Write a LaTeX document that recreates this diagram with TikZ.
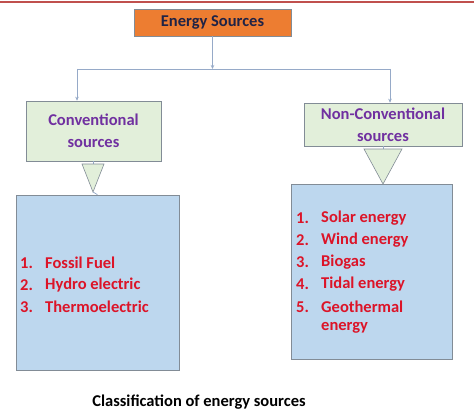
\documentclass[tikz,border=0pt]{standalone}
\usepackage{fontspec}
\setmainfont{Carlito}
\usetikzlibrary{arrows.meta}
\definecolor{orangebox}{RGB}{237,125,49}
\definecolor{greenbox}{RGB}{226,239,218}
\definecolor{bluebox}{RGB}{189,215,238}
\definecolor{edgegray}{RGB}{130,140,150}
\definecolor{linkblue}{RGB}{150,170,200}
\definecolor{titletext}{RGB}{31,35,70}
\definecolor{purpletext}{RGB}{112,48,160}
\definecolor{redtext}{RGB}{220,20,40}
\definecolor{topline}{RGB}{192,80,77}
\tikzset{
  x=1pt, y=-1pt,
  rootbox/.style={draw=edgegray, fill=orangebox, line width=0.6pt, minimum width=157pt, minimum height=27pt, inner sep=0pt, text=titletext, font=\fontsize{16.5}{18}\selectfont\bfseries},
  catbox/.style={draw=edgegray, fill=greenbox, line width=0.6pt, inner sep=0pt, text=purpletext, align=center, font=\fontsize{16.5}{22}\selectfont\bfseries},
  listbox/.style={draw=edgegray, fill=bluebox, line width=0.6pt, inner sep=0pt},
  listtext/.style={text=redtext, anchor=west, inner sep=0pt, font=\fontsize{16.5}{22}\selectfont\bfseries},
  tri/.style={draw=edgegray, fill=greenbox, line width=0.6pt},
  link/.style={draw=linkblue, line width=0.7pt},
  linkarrow/.style={link, -{Stealth[length=4pt,width=3.5pt]}},
}
\begin{document}
\begin{tikzpicture}
\useasboundingbox (0,0) rectangle (474,412);
\fill[white] (0,0) rectangle (474,412);
\draw[topline, line width=1.8pt] (0,2) -- (474,2);

\node[rootbox] (root) at (212.5,22.5) {Energy Sources};
\node[catbox, minimum width=135pt, minimum height=60pt] (conv) at (93.5,131) {Conventional\\sources};
\node[catbox, minimum width=158pt, minimum height=43pt] (nonconv) at (383,124.5) {Non-Conventional\\sources};

\node[listbox, minimum width=163pt, minimum height=175pt] (leftlist) at (97.5,282.5) {};
\node[listbox, minimum width=161pt, minimum height=175pt] (rightlist) at (371.5,271.5) {};

% connectors
\coordinate (junc) at (root.south |- 0,69);
\coordinate (jl) at (77,69);
\coordinate (jr) at (390,69);
\draw[linkarrow] (root.south) -- (junc);
\draw[link] (jl) -- (jr);
\draw[linkarrow] (jl) -- (jl |- conv.north);
\draw[linkarrow] (jr) -- (jr |- nonconv.north);

% triangles
\coordinate (ltA) at (82,164);
\coordinate (ltB) at (104,164);
\coordinate (ltC) at (93,192);
\draw[link] (93,161) -- (93,164);
\draw[tri] (ltA) -- (ltB) -- (ltC) -- cycle;
\draw[link] (ltC) -- (leftlist.north);

\coordinate (rtA) at (364,149);
\coordinate (rtB) at (402,149);
\coordinate (rtC) at (383,184);
\draw[link] (383,146) -- (383,149);
\draw[tri] (rtA) -- (rtB) -- (rtC) -- cycle;

% left list
\node[listtext] (l1n) at (20,263) {1.};
\node[listtext] (l1) at (45,263) {Fossil Fuel};
\node[listtext] (l2n) at (20,285) {2.};
\node[listtext] (l2) at (45,285) {Hydro electric};
\node[listtext] (l3n) at (20,307) {3.};
\node[listtext] (l3) at (45,307) {Thermoelectric};

% right list
\node[listtext] (r1n) at (296,218) {1.};
\node[listtext] (r1) at (321,218) {Solar energy};
\node[listtext] (r2n) at (296,240) {2.};
\node[listtext] (r2) at (321,240) {Wind energy};
\node[listtext] (r3n) at (296,262) {3.};
\node[listtext] (r3) at (321,262) {Biogas};
\node[listtext] (r4n) at (296,284) {4.};
\node[listtext] (r4) at (321,284) {Tidal energy};
\node[listtext] (r5n) at (296,307) {5.};
\node[listtext] (r5) at (321,307) {Geothermal};
\node[listtext] (r6) at (321,328) {energy};

\node[font=\fontsize{16.5}{18}\selectfont\bfseries, inner sep=0pt] (caption) at (199,402) {Classification of energy sources};
\end{tikzpicture}
\end{document}
